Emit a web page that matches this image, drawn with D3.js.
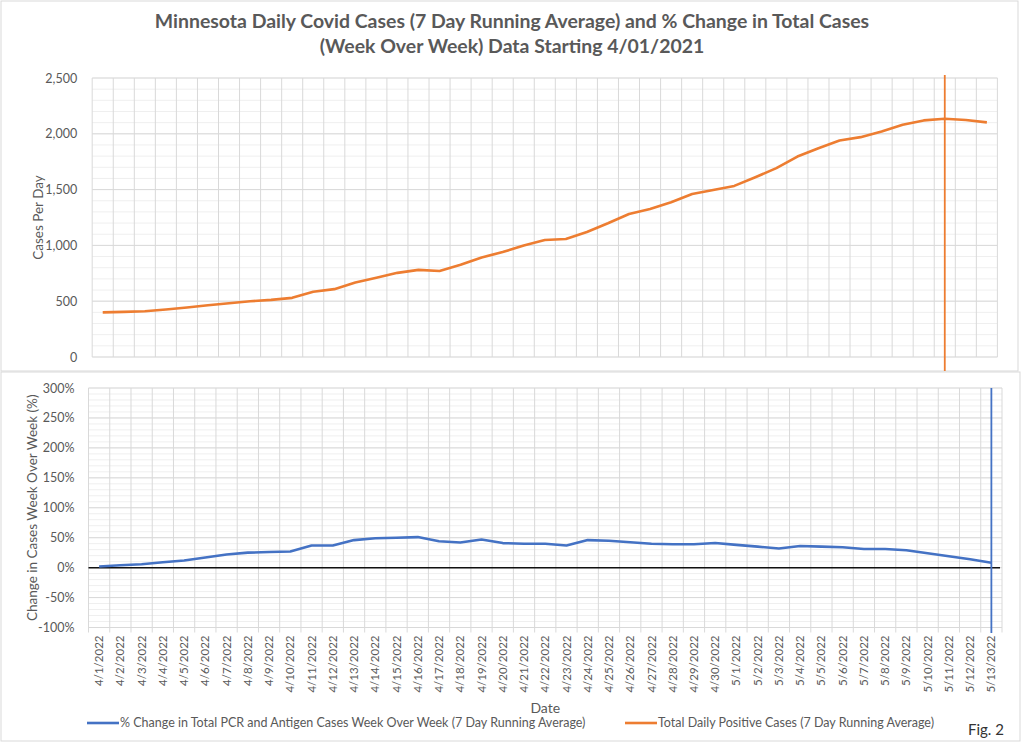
<!DOCTYPE html>
<html>
<head>
<meta charset="utf-8">
<script src="https://cdn.jsdelivr.net/npm/d3@7"></script>
<style>
  body { margin: 0; background: #fff; }
  svg { display: block; font-family: Lato, "Open Sans", sans-serif; }
</style>
</head>
<body>
<div id="chart"></div>
<script>
// dates on the category axis
var dates = ["4/1/2022","4/2/2022","4/3/2022","4/4/2022","4/5/2022","4/6/2022","4/7/2022",
  "4/8/2022","4/9/2022","4/10/2022","4/11/2022","4/12/2022","4/13/2022","4/14/2022",
  "4/15/2022","4/16/2022","4/17/2022","4/18/2022","4/19/2022","4/20/2022","4/21/2022",
  "4/22/2022","4/23/2022","4/24/2022","4/25/2022","4/26/2022","4/27/2022","4/28/2022",
  "4/29/2022","4/30/2022","5/1/2022","5/2/2022","5/3/2022","5/4/2022","5/5/2022",
  "5/6/2022","5/7/2022","5/8/2022","5/9/2022","5/10/2022","5/11/2022","5/12/2022","5/13/2022"];

// Total Daily Positive Cases (7 day running average)
var cases = [400,404,410,425,443,464,482,500,512,530,584,608,668,710,754,781,770,826,892,940,
  1000,1048,1057,1120,1198,1281,1326,1386,1461,1497,1533,1611,1692,1796,1871,1940,1970,2021,
  2081,2120,2135,2123,2102];

// % change week over week (percent)
var pctChange = [2,4,5.6,9,12,17,22,25,26,27,37,37,46,49,50,51,44,42,47,41,40,40,37,46,45,42.5,
  40,39,39,41,38,35,32,36,35,34,31,31,29,24,19,14,8];

var casesTicks = [0,500,1000,1500,2000,2500];
var pctTicks = [-100,-50,0,50,100,150,200,250,300];

var casesMarker = "5/11/2022";
var pctMarker = "5/13/2022";

var titleLines = ["Minnesota Daily Covid Cases (7 Day Running Average) and % Change in Total Cases",
  "(Week Over Week) Data Starting 4/01/2021"];
var legendNames = ["% Change in Total PCR and Antigen Cases Week Over Week (7 Day Running Average)",
  "Total Daily Positive Cases (7 Day Running Average)"];

var W = 1024, H = 743;
var orange = "#ED7D31", blue = "#4472C4", textCol = "#595959";
var gridMajor = "#D9D9D9", gridMinor = "#EFEFEF";

var svg = d3.select("#chart").append("svg")
    .attr("width", W)
    .attr("height", H);

// chart frames
svg.append("rect").attr("x", 1).attr("y", 1).attr("width", 1017).attr("height", 370)
    .attr("fill", "#fff").attr("stroke", gridMajor);
svg.append("rect").attr("x", 1).attr("y", 372).attr("width", 1019).attr("height", 369)
    .attr("fill", "#fff").attr("stroke", gridMajor);

// title
var title = svg.append("g").attr("class", "title");
var titleWidths = [715, 385];
titleLines.forEach(function(t, i) {
  var txt = title.append("text")
      .attr("x", 512).attr("y", 28 + i * 25)
      .attr("text-anchor", "middle")
      .attr("fill", textCol)
      .style("font-weight", "bold")
      .style("font-size", "17px")
      .text(t);
  var len = txt.node().getComputedTextLength();
  txt.style("font-size", (17 * titleWidths[i] / len).toFixed(2) + "px");
});

// ---------- top panel: cases per day ----------
var box1 = {left: 92.2, right: 997.4, top: 78, bottom: 357};

var x1 = d3.scaleBand()
    .domain(dates)
    .range([box1.left, box1.right])
    .padding(0);

var y1 = d3.scaleLinear()
    .domain([0, 2500])
    .range([box1.bottom, box1.top]);

var g1 = svg.append("g");

// minor and major horizontal grid
g1.selectAll(".minor")
  .data(y1.ticks(25))
  .enter().append("line")
    .attr("class", "minor")
    .attr("x1", box1.left).attr("x2", box1.right)
    .attr("y1", function(d) { return y1(d); })
    .attr("y2", function(d) { return y1(d); })
    .attr("stroke", gridMinor);

g1.selectAll(".major")
  .data(casesTicks)
  .enter().append("line")
    .attr("class", "major")
    .attr("x1", box1.left).attr("x2", box1.right)
    .attr("y1", function(d) { return y1(d); })
    .attr("y2", function(d) { return y1(d); })
    .attr("stroke", gridMajor);

// vertical grid at category boundaries
g1.selectAll(".vgrid")
  .data(dates.map(function(d) { return x1(d); }).concat([box1.right]))
  .enter().append("line")
    .attr("class", "vgrid")
    .attr("x1", function(d) { return d; })
    .attr("x2", function(d) { return d; })
    .attr("y1", box1.top).attr("y2", box1.bottom)
    .attr("stroke", gridMajor);

// y axis
var ax1 = g1.append("g")
    .attr("transform", "translate(" + (box1.left - 12) + ",0)")
    .call(d3.axisLeft(y1).tickValues(casesTicks).tickSize(0).tickFormat(d3.format(",")));
ax1.select(".domain").remove();
ax1.selectAll("text").attr("fill", textCol).style("font-size", "12.5px").style("font-family", "Lato");

g1.append("text")
    .attr("transform", "translate(43," + ((box1.top + box1.bottom) / 2) + ") rotate(-90)")
    .attr("text-anchor", "middle")
    .attr("fill", textCol)
    .style("font-size", "13.5px")
    .text("Cases Per Day");

// cases line
var line1 = d3.line()
    .x(function(d, i) { return x1(dates[i]) + x1.bandwidth() / 2; })
    .y(function(d) { return y1(d); });

g1.append("path")
    .datum(cases)
    .attr("fill", "none")
    .attr("stroke", orange)
    .attr("stroke-width", 2.6)
    .attr("stroke-linejoin", "round")
    .attr("d", line1);

// orange marker line
var mx1 = x1(casesMarker) + x1.bandwidth() / 2;
g1.append("line")
    .attr("x1", mx1).attr("x2", mx1)
    .attr("y1", 75).attr("y2", 371)
    .attr("stroke", orange)
    .attr("stroke-width", 1.8);

// ---------- bottom panel: % change ----------
var box2 = {left: 88.5, right: 1002, top: 388, bottom: 627.5};

var x2 = d3.scaleBand()
    .domain(dates)
    .range([box2.left, box2.right])
    .padding(0);

var y2 = d3.scaleLinear()
    .domain([-100, 300])
    .range([box2.bottom, box2.top]);

var g2 = svg.append("g");

g2.selectAll(".minor")
  .data(y2.ticks(40))
  .enter().append("line")
    .attr("class", "minor")
    .attr("x1", box2.left).attr("x2", box2.right)
    .attr("y1", function(d) { return y2(d); })
    .attr("y2", function(d) { return y2(d); })
    .attr("stroke", gridMinor);

g2.selectAll(".major")
  .data(pctTicks)
  .enter().append("line")
    .attr("class", "major")
    .attr("x1", box2.left).attr("x2", box2.right)
    .attr("y1", function(d) { return y2(d); })
    .attr("y2", function(d) { return y2(d); })
    .attr("stroke", gridMajor);

g2.selectAll(".vgrid")
  .data(dates.map(function(d) { return x2(d); }).concat([box2.right]))
  .enter().append("line")
    .attr("class", "vgrid")
    .attr("x1", function(d) { return d; })
    .attr("x2", function(d) { return d; })
    .attr("y1", box2.top).attr("y2", box2.bottom + 5)
    .attr("stroke", gridMajor);

var ax2 = g2.append("g")
    .attr("transform", "translate(" + (box2.left - 11) + ",0)")
    .call(d3.axisLeft(y2).tickValues(pctTicks).tickSize(0).tickFormat(function(d) { return d + "%"; }));
ax2.select(".domain").remove();
ax2.selectAll("text").attr("fill", textCol).style("font-size", "12.5px").style("font-family", "Lato");

g2.append("text")
    .attr("transform", "translate(37," + ((box2.top + box2.bottom) / 2) + ") rotate(-90)")
    .attr("text-anchor", "middle")
    .attr("fill", textCol)
    .style("font-size", "13.5px")
    .text("Change in Cases Week Over Week (%)");

// x axis labels (rotated)
var ax3 = g2.append("g")
    .attr("transform", "translate(0," + (box2.bottom + 8) + ")")
    .call(d3.axisBottom(x2).tickSize(0));
ax3.select(".domain").remove();
ax3.selectAll("text")
    .attr("fill", textCol)
    .style("font-size", "11.5px")
    .style("font-family", "Lato")
    .style("text-anchor", "end")
    .attr("x", 0)
    .attr("y", 0)
    .attr("dx", 0)
    .attr("dy", "0.35em")
    .attr("transform", "rotate(-90)");

// zero line
g2.append("line")
    .attr("x1", box2.left).attr("x2", box2.right - 2)
    .attr("y1", y2(0)).attr("y2", y2(0))
    .attr("stroke", "#111")
    .attr("stroke-width", 1.5);

var line2 = d3.line()
    .x(function(d, i) { return x2(dates[i]) + x2.bandwidth() / 2; })
    .y(function(d) { return y2(d); });

g2.append("path")
    .datum(pctChange)
    .attr("fill", "none")
    .attr("stroke", blue)
    .attr("stroke-width", 2.6)
    .attr("stroke-linejoin", "round")
    .attr("d", line2);

var mx2 = x2(pctMarker) + x2.bandwidth() / 2;
g2.append("line")
    .attr("x1", mx2).attr("x2", mx2)
    .attr("y1", box2.top).attr("y2", 633)
    .attr("stroke", blue)
    .attr("stroke-width", 1.8);

// x axis title
svg.append("text")
    .attr("x", (box2.left + box2.right) / 2)
    .attr("y", 713)
    .attr("text-anchor", "middle")
    .attr("fill", textCol)
    .style("font-size", "14px")
    .text("Date");

// legend
var legendData = [
  {name: legendNames[0], color: blue, x: 87},
  {name: legendNames[1], color: orange, x: 625}
];

var keys = svg.selectAll(".key")
  .data(legendData)
  .enter().append("g")
    .attr("class", "key")
    .attr("transform", function(d) { return "translate(" + d.x + ",723)"; });

keys.append("line")
    .attr("x1", 0).attr("x2", 32)
    .attr("stroke", function(d) { return d.color; })
    .attr("stroke-width", 2.6);

keys.append("text")
    .attr("x", 33)
    .attr("dy", "0.35em")
    .attr("fill", textCol)
    .style("font-size", "12.5px")
    .text(function(d) { return d.name; });

svg.append("text")
    .attr("x", 968)
    .attr("y", 735)
    .attr("fill", "#333")
    .style("font-size", "15px")
    .text("Fig. 2");
</script>
</body>
</html>
